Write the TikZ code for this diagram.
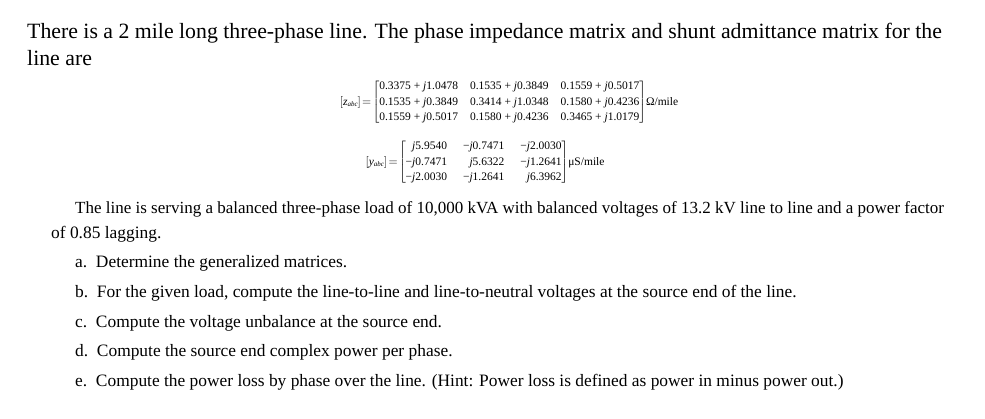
\documentclass[tikz,border=0pt]{standalone}
\usepackage{fontspec}
\setmainfont{Liberation Serif}
\begin{document}
\begin{tikzpicture}[x=1pt,y=-1pt,
  top/.style={anchor=base west,inner sep=0pt,font=\fontsize{21.8}{26}\selectfont},
  txt/.style={anchor=base west,inner sep=0pt,font=\fontsize{17.4}{21}\selectfont},
  mat/.style={inner sep=0pt,font=\fontsize{11.5}{13.5}\selectfont}]
\useasboundingbox (0,0) rectangle (985,418);
\node[top] (l1) at (27,38) {There is a 2 mile long three-phase line. The phase impedance matrix and shunt admittance matrix for the};
\node[top] (l2) at (27,65) {line are};
\newcommand{\jj}{\textit{j}}
\node[mat] (z) at (509,102) {$\left[\hbox{\textit{z}\raisebox{-1pt}{\scriptsize\textit{abc}}}\right]\!=\!\left[\vcenter{\hbox{\renewcommand{\arraystretch}{1.12}\setlength{\tabcolsep}{6pt}\begin{tabular}{@{}lll@{}}
0.3375 + \jj1.0478 & 0.1535 + \jj0.3849 & 0.1559 + \jj0.5017\\
0.1535 + \jj0.3849 & 0.3414 + \jj1.0348 & 0.1580 + \jj0.4236\\
0.1559 + \jj0.5017 & 0.1580 + \jj0.4236 & 0.3465 + \jj1.0179
\end{tabular}}}\right]\!\hbox{Ω/mile}$};
\node[mat] (y) at (485,162) {$\left[\hbox{\textit{y}\raisebox{-1pt}{\scriptsize\textit{abc}}}\right]\!=\!\left[\vcenter{\hbox{\renewcommand{\arraystretch}{1.12}\setlength{\tabcolsep}{8pt}\begin{tabular}{@{}lll@{}}
\hphantom{−}\jj5.9540 & −\jj0.7471 & −\jj2.0030\\
−\jj0.7471 & \hphantom{−}\jj5.6322 & −\jj1.2641\\
−\jj2.0030 & −\jj1.2641 & \hphantom{−}\jj6.3962
\end{tabular}}}\right]\!\hbox{μS/mile}$};
\node[txt,font=\fontsize{17}{21}\selectfont] (p1) at (75,213) {The line is serving a balanced three-phase load of 10,000 kVA with balanced voltages of 13.2 kV line to line and a power factor};
\node[txt] (p2) at (51,238) {of 0.85 lagging.};
\node[txt] (a) at (75,267) {a.\ \ Determine the generalized matrices.};
\node[txt] (b) at (75,297) {b.\ \ For the given load, compute the line-to-line and line-to-neutral voltages at the source end of the line.};
\node[txt] (c) at (75,327) {c.\ \ Compute the voltage unbalance at the source end.};
\node[txt] (d) at (75,356) {d.\ \ Compute the source end complex power per phase.};
\node[txt] (e) at (75,386) {e.\ \ Compute the power loss by phase over the line. (Hint: Power loss is defined as power in minus power out.)};
\end{tikzpicture}
\end{document}
